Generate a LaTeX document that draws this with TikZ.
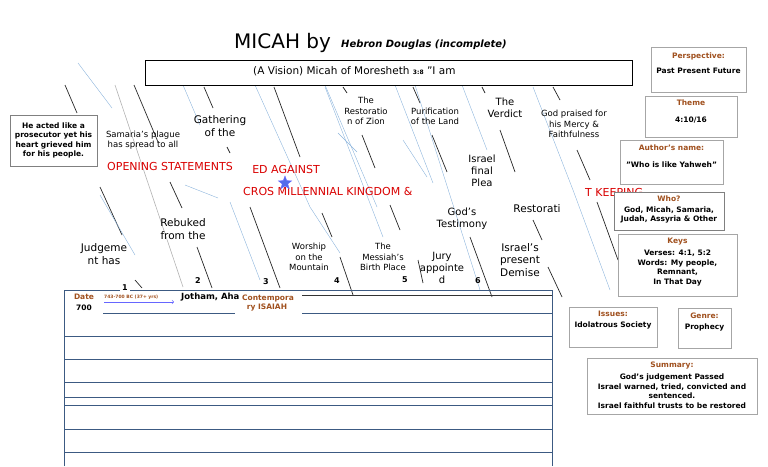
\documentclass[tikz,border=0pt]{standalone}
\usepackage{fontspec}
\setmainfont{DejaVu Sans}
\usetikzlibrary{shapes.geometric}
\definecolor{brn}{RGB}{160,80,30}
\definecolor{bl}{RGB}{140,180,220}
\definecolor{tb}{RGB}{60,90,130}
\begin{document}
\begin{tikzpicture}[x=1pt,y=-1pt,
 fs/.style={font=\fontsize{#1}{\dimexpr #1pt*12/10\relax}\selectfont},
 t/.style={align=center,inner sep=0pt,fs=#1},
 bx/.style={draw=gray!70,line width=0.6pt,fill=white},
 blk/.style={line width=0.7pt,black!85},
 blu/.style={line width=0.4pt,bl},
 red/.style={text=red!85!black,inner sep=0pt,fs=11}]
\useasboundingbox (0,0) rectangle (768,466);
% diagonal lines
\foreach \xa/\ya/\xb/\yb in {65/85/77/113,100/187/122/235,135/280/142/288,134/85/158/142,170/182/182/208,197/247/212/288,
204/87/213/108,227/147/230/153,250/207/280/288,274/87/300/157,322/213/332/237,340/257/353/295,
343/87/347/93,362/135/375/168,390/205/400/230,418/260/423/283,413/87/420/103,432/135/447/172,470/237/492/297,
482/87/485/93,500/130/515/172,533/220/542/240,548/267/562/297,553/87/560/100,577/150/590/180,597/202/618/260}
 \draw[blk] (\xa,\ya) -- (\xb,\yb);
\foreach \xa/\ya/\xb/\yb in {78/63/112/108,100/195/135/255,183/85/200/125,185/185/218/198,230/202/260/280,255/85/310/207,
310/207/340/253,325/85/377/207,325/87/383/237,395/85/433/183,462/85/487/150,533/87/573/190,573/190/610/290,
338/133/357/152,403/140/427/177,415/85/480/290}
 \draw[blu] (\xa,\ya) -- (\xb,\yb);
\draw[line width=0.6pt,gray!60] (115,85) -- (183,287);
% title
\node[t=20,anchor=base west] (ti) at (234,48) {MICAH by};
\node[t=10,anchor=base west,font=\fontsize{10}{12}\selectfont\bfseries\itshape] (au) at (341,47) {Hebron Douglas (incomplete)};
\node[draw,line width=0.8pt,minimum width=487pt,minimum height=25pt,inner sep=0pt,fill=white] (vb) at (388.5,72.5) {};
\node[t=10.5,anchor=west] (vt) at (253,71) {(A Vision) Micah of Moresheth {\fontsize{6}{7}\selectfont\bfseries 3:8} "I am};
% left box
\node[bx,draw=gray,minimum width=87pt,minimum height=51pt,t=7,font=\fontsize{7.5}{9.5}\selectfont\bfseries] (lb) at (53.5,140.5) {He acted like a\\prosecutor yet his\\heart grieved him\\for his people.};
% labels
\node[t=8.5] (n1) at (143,140) {Samaria's plague\\has spread to all};
\node[t=10.5] (n2) at (220,126) {Gathering\\of the};
\node[t=10.5] (n3) at (183,229) {Rebuked\\from the};
\node[t=10.5] (n4) at (104,254) {Judgeme\\nt has};
\node[t=8.5] (n5) at (309,257) {Worship\\on the\\Mountain};
\node[t=8.5] (n6) at (366,111) {The\\Restoratio\\n of Zion};
\node[t=8.5] (n7) at (435,116) {Purification\\of the Land};
\node[t=10] (n8) at (505,108) {The\\Verdict};
\node[t=8.5] (n9) at (574,124) {God praised for\\his Mercy \&\\Faithfulness};
\node[t=10] (n10) at (482,171) {Israel\\final\\Plea};
\node[t=10] (n11) at (462,219) {God's\\Testimony};
\node[t=10.5] (n12) at (537,209) {Restorati};
\node[t=8.5] (n13) at (383,257) {The\\Messiah's\\Birth Place};
\node[t=10] (n14) at (442,268) {Jury\\appointe\\d};
\node[t=10.5] (n15) at (520,260) {Israel's\\present\\Demise};
\foreach \n/\x/\y in {1/125/288,2/198/281,3/266/282,4/337/281,5/405/280,6/478/281}
 \node[t=8,font=\fontsize{8}{9}\selectfont\bfseries] (k\n) at (\x,\y) {\n};
% red labels
\node[red] (r1) at (170,166) {OPENING STATEMENTS};
\node[red] (r2) at (286,169) {ED AGAINST};
\node[red,anchor=west] (r3) at (243,191) {CROS MILLENNIAL KINGDOM \&};
\node[star,star points=5,star point ratio=2.4,fill=bl!60!blue,draw=blue!60,minimum size=14pt,inner sep=0pt] (st) at (285,183) {};
\node[red,anchor=west] (r4) at (585,192) {T KEEPING};
% right boxes
\tikzset{hd/.style={text=brn,font=\fontsize{7.5}{9}\selectfont\bfseries},
 bd/.style={font=\fontsize{7.5}{9.5}\selectfont\bfseries}}
\node[bx,minimum width=95pt,minimum height=45pt] (p) at (698.5,69.5) {};
\node[t=7,hd] at (698.5,56) {Perspective:};
\node[t=7,bd] at (698.5,71) {Past Present Future};
\node[bx,minimum width=92pt,minimum height=41pt] (th) at (691,116.5) {};
\node[t=7,hd] at (691,103) {Theme};
\node[t=7,bd] at (691,120) {4:10/16};
\node[bx,minimum width=103pt,minimum height=44pt] (an) at (671.5,162) {};
\node[t=7,hd] at (671.5,148) {Author's name:};
\node[t=7,bd] at (671.5,165) {"Who is like Yahweh"};
\node[bx,draw=gray,minimum width=110pt,minimum height=38pt] (wh) at (669,211) {};
\node[t=7,hd] at (669,199) {Who?};
\node[t=7,bd] at (669,215) {God, Micah, Samaria,\\Judah, Assyria \& Other};
\node[bx,minimum width=119pt,minimum height=62pt] (ky) at (677.5,265) {};
\node[t=7,hd] at (677.5,242) {Keys};
\node[t=7,bd] at (677.5,268) {Verses: 4:1, 5:2\\Words: My people,\\Remnant,\\In That Day};
\node[bx,minimum width=88pt,minimum height=40pt] (is) at (613,327) {};
\node[t=7,hd] at (613,314) {Issues:};
\node[t=7,bd] at (613,325) {Idolatrous Society};
\node[bx,minimum width=53pt,minimum height=40pt] (gn) at (704.5,328) {};
\node[t=7,hd] at (704.5,316) {Genre:};
\node[t=7,bd] at (704.5,327) {Prophecy};
\node[bx,minimum width=170pt,minimum height=56pt] (sm) at (672,386) {};
\node[t=7,hd] at (672,366) {Summary:};
\node[t=7,bd] at (672,391) {God's judgement Passed\\Israel warned, tried, convicted and\\sentenced.\\Israel faithful trusts to be restored};
% table
\draw[tb,line width=0.8pt] (64,466) -- (64,290) -- (120,290);
\draw[tb,line width=0.8pt] (130,290) -- (552,290) -- (552,466);
\draw[black!80,line width=1pt] (302,295) -- (552,295);
\draw[tb,line width=0.8pt] (103,313) -- (235,313) (302,313) -- (552,313);
\foreach \y in {336,359,382,397,405,429,452}
 \draw[tb,line width=0.8pt] (64,\y) -- (552,\y);
\node[t=7,hd] (dt) at (84,297) {Date};
\node[t=7,bd] (dy) at (84,308) {700};
\node[t=4.5,text=brn,anchor=west,font=\fontsize{4.5}{5}\selectfont\bfseries] (yr) at (104,297) {743-700 BC (37+ yrs)};
\coordinate (ae) at (174,302);
\draw[blue!60,->,line width=0.6pt] (104,302) -- (ae);
\node[t=8.5,anchor=west,font=\fontsize{8.5}{9}\selectfont\bfseries] (jo) at (181,297) {Jotham, Aha};
\node[t=7,hd] (ct) at (268,298) {Contempora};
\node[t=7,hd] (ct2) at (267,308) {ry ISAIAH};
\end{tikzpicture}
\end{document}
